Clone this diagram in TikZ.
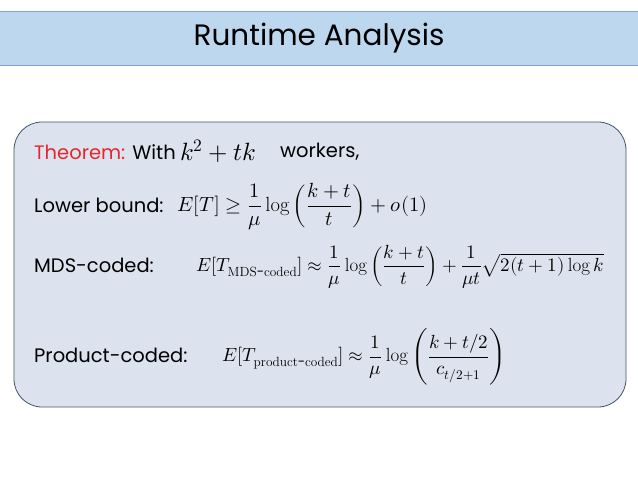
\documentclass[tikz,border=0pt]{standalone}
\usepackage{amsmath}
\usepackage{fontspec}
\setmainfont{Poppins}
\usepackage{unicode-math}
\setmathfont{Latin Modern Math}
\setmathrm{Latin Modern Roman}
\definecolor{barfill}{HTML}{BDD7EE}
\definecolor{barline}{HTML}{7FA3D0}
\definecolor{boxfill}{HTML}{DCE3EE}
\definecolor{boxline}{HTML}{44546A}
\definecolor{thmred}{HTML}{E8262B}
\tikzset{lbl/.style={anchor=west,inner sep=0,font=\fontsize{19.5}{23}\selectfont},
 eq/.style={anchor=west,inner sep=0,font=\fontsize{19}{23}\selectfont}}
\begin{document}
\begin{tikzpicture}[x=1pt,y=1pt]
\useasboundingbox (0,0) rectangle (638,478);
\fill[white] (0,0) rectangle (638,478);
\draw[barline,fill=barfill] (-1,413) rectangle (639,467);
\node[inner sep=0,font=\fontsize{29.5}{34}\selectfont] (title) at (319,440) {Runtime Analysis};
\draw[boxline,fill=boxfill,rounded corners=28pt,line width=0.8pt] (14,71) rectangle (626,356) coordinate (boxne);
\node[lbl] (thm) at (34,326) {\textcolor{thmred}{Theorem:} With};
\node[eq,font=\fontsize{25}{28}\selectfont] (thmeq) at (180,327) {$k^2+tk$};
\node[lbl] (wk) at (280,326) {workers,};
\node[lbl] (lb) at (34,273) {Lower bound:};
\node[eq,font=\fontsize{20.5}{24}\selectfont] (lbeq) at (177,271) {$E[T]\geq\dfrac{1}{\mu}\log\left(\dfrac{k+t}{t}\right)+o(1)$};
\node[lbl] (mds) at (34,213) {MDS-coded:};
\node[eq] (mdseq) at (196,211) {$E[T_{\mathrm{MDS\text{-}coded}}]\approx\dfrac{1}{\mu}\log\left(\dfrac{k+t}{t}\right)+\dfrac{1}{\mu t}\sqrt{2(t+1)\log k}$};
\node[lbl] (pc) at (34,123) {Product-coded:};
\node[eq] (pceq) at (222,121) {$E[T_{\mathrm{product\text{-}coded}}]\approx\dfrac{1}{\mu}\log\left(\dfrac{k+t/2}{c_{t/2+1}}\right)$};
\end{tikzpicture}
\end{document}
